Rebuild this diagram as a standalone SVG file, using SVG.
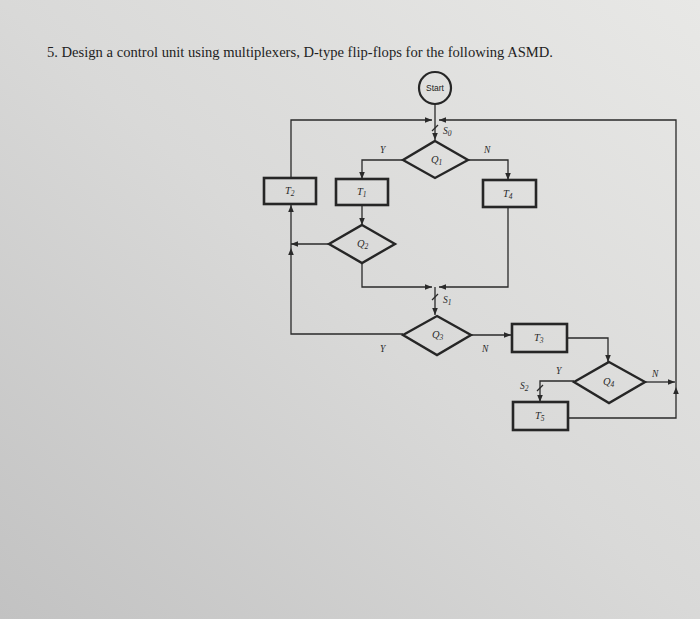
<svg xmlns="http://www.w3.org/2000/svg" width="700" height="619" viewBox="0 0 700 619">
<defs>
<linearGradient id="bg" x1="0" y1="1" x2="1" y2="0">
<stop offset="0" stop-color="#c2c2c2"/>
<stop offset="0.5" stop-color="#d9d9d8"/>
<stop offset="1" stop-color="#e8e8e6"/>
</linearGradient>
<marker id="ar" viewBox="0 0 10 10" refX="10" refY="5" markerWidth="7" markerHeight="7" markerUnits="userSpaceOnUse" orient="auto">
<path d="M0,1 L10,5 L0,9 Z" fill="#2a2a2a"/>
</marker>
<style>
.ln{fill:none;stroke:#2a2a2a;stroke-width:1.3}
.bx{fill:none;stroke:#262626;stroke-width:2.6}
.dm{fill:none;stroke:#262626;stroke-width:2.4}
.lb{font-family:"Liberation Serif",serif;font-style:italic;font-size:9.5px;fill:#2a2a2a}
.nm{font-family:"Liberation Serif",serif;font-style:italic;font-size:10.5px;fill:#2a2a2a}
.sub{font-size:7.5px}
</style>
</defs>
<rect width="700" height="619" fill="url(#bg)"/>
<text x="47" y="57" font-family="Liberation Serif, serif" font-size="15" fill="#1e1e1e" textLength="506" lengthAdjust="spacingAndGlyphs">5. Design a control unit using multiplexers, D-type flip-flops for the following ASMD.</text>

<g id="connectors">
<path class="ln" d="M435,104 V140" marker-end="url(#ar)"/>
<path class="ln" d="M291,178 V120 H432" marker-end="url(#ar)"/>
<path class="ln" d="M568,418 H676 V387" marker-end="url(#ar)"/>
<path class="ln" d="M676,387 V120 H439" marker-end="url(#ar)"/>
<path class="ln" d="M432,131 L438,125"/>
<path class="ln" d="M403,160 H362 V179" marker-end="url(#ar)"/>
<path class="ln" d="M468,160 H508 V180" marker-end="url(#ar)"/>
<path class="ln" d="M362,205 V225" marker-end="url(#ar)"/>
<path class="ln" d="M329,244 H291" marker-end="url(#ar)"/>
<path class="ln" d="M403,334 H291 V248" marker-end="url(#ar)"/>
<path class="ln" d="M291,248 V205" marker-end="url(#ar)"/>
<path class="ln" d="M362,263 V287 H432" marker-end="url(#ar)"/>
<path class="ln" d="M508,207 V287 H439" marker-end="url(#ar)"/>
<path class="ln" d="M435,287 V315" marker-end="url(#ar)"/>
<path class="ln" d="M432,300 L438,294"/>
<path class="ln" d="M471,335 H511" marker-end="url(#ar)"/>
<path class="ln" d="M567,338 H608 V362" marker-end="url(#ar)"/>
<path class="ln" d="M574,381 H540 V402" marker-end="url(#ar)"/>
<path class="ln" d="M537,391 L543,385"/>
<path class="ln" d="M645,382 H675" marker-end="url(#ar)"/>
<text class="lb" x="443" y="134">S<tspan class="sub" dy="2">0</tspan></text>
<text class="lb" x="443" y="303">S<tspan class="sub" dy="2">1</tspan></text>
<text class="lb" x="520" y="389">S<tspan class="sub" dy="2">2</tspan></text>
<text class="lb" x="380" y="153">Y</text>
<text class="lb" x="484" y="153">N</text>
<text class="lb" x="380" y="352">Y</text>
<text class="lb" x="482" y="352">N</text>
<text class="lb" x="556" y="374">Y</text>
<text class="lb" x="652" y="377">N</text>
</g>

<g id="start">
<circle cx="435" cy="88" r="16" fill="none" stroke="#262626" stroke-width="2.2"/>
<text x="435" y="91" text-anchor="middle" font-family="Liberation Sans, sans-serif" font-size="8.5" fill="#222">Start</text>
</g>
<g id="Q1">
<polygon class="dm" points="435,141 468,160 435,178 403,160"/>
<text class="nm" x="431" y="163">Q<tspan class="sub" dy="2">1</tspan></text>
</g>
<g id="T2">
<rect class="bx" x="264" y="178" width="52" height="26"/>
<text class="nm" x="285" y="194">T<tspan class="sub" dy="2">2</tspan></text>
</g>
<g id="T1">
<rect class="bx" x="336" y="179" width="52" height="26"/>
<text class="nm" x="357" y="195">T<tspan class="sub" dy="2">1</tspan></text>
</g>
<g id="T4">
<rect class="bx" x="483" y="180" width="53" height="27"/>
<text class="nm" x="503" y="197">T<tspan class="sub" dy="2">4</tspan></text>
</g>
<g id="Q2">
<polygon class="dm" points="362,225 395,244 362,263 329,244"/>
<text class="nm" x="357" y="247">Q<tspan class="sub" dy="2">2</tspan></text>
</g>
<g id="Q3">
<polygon class="dm" points="437,316 471,335 437,355 403,335"/>
<text class="nm" x="432" y="338">Q<tspan class="sub" dy="2">3</tspan></text>
</g>
<g id="T3">
<rect class="bx" x="512" y="324" width="55" height="28"/>
<text class="nm" x="534" y="341">T<tspan class="sub" dy="2">3</tspan></text>
</g>
<g id="Q4">
<polygon class="dm" points="609,362 645,382 609,403 574,382"/>
<text class="nm" x="603" y="385">Q<tspan class="sub" dy="2">4</tspan></text>
</g>
<g id="T5">
<rect class="bx" x="513" y="402" width="55" height="28"/>
<text class="nm" x="535" y="419">T<tspan class="sub" dy="2">5</tspan></text>
</g>
</svg>
